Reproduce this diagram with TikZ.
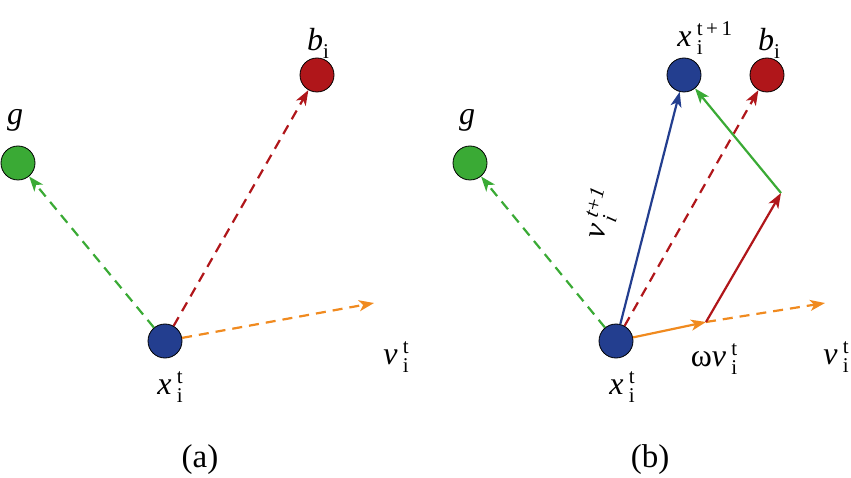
\documentclass[tikz,border=0pt]{standalone}
\usepackage{fontspec}
\setmainfont{Liberation Serif}
\usetikzlibrary{arrows.meta}
\definecolor{cb}{HTML}{233E8F}
\definecolor{cr}{HTML}{B0161A}
\definecolor{cg}{HTML}{3AAA35}
\definecolor{co}{HTML}{F08A1F}
\newcommand{\ssz}{\fontsize{21}{22}\selectfont}
\newcommand{\vx}[2]{\textit{#1}\,\raisebox{11pt}{\makebox[0pt][l]{\ssz #2}}\raisebox{-8pt}{\ssz i}}
\begin{document}
\begin{tikzpicture}[x=1pt,y=-1pt,font=\fontsize{32}{34}\selectfont,
  dot/.style={circle,draw=black,line width=0.8pt,minimum size=34pt,inner sep=0pt},
  arr/.style={line width=2.2pt,-{Stealth[length=15pt,width=11pt,inset=4pt]}},
  dsh/.style={arr,dash pattern=on 10pt off 7pt},
  lbl/.style={inner sep=0pt}]
\useasboundingbox (0,0) rectangle (851,478);
% panel a
\node[dot,fill=cg] (ga) at (18,163) {};
\node[dot,fill=cr] (ba) at (317,75) {};
\node[dot,fill=cb] (xa) at (165,341) {};
\coordinate (va) at (374,303);
\draw[dsh,cg] (xa) -- (ga);
\draw[dsh,cr] (xa) -- (ba);
\draw[dsh,co] (xa) -- (va);
\node[lbl] at (15,120) {\textit{g}};
\node[lbl] at (318,43) {\textit{b}\raisebox{-8pt}{\ssz i}};
\node[lbl] at (170,387) {\vx{x}{t}};
\node[lbl] at (396,357) {\vx{v}{t}};
\node[lbl,font=\fontsize{33}{36}\selectfont] at (200,460) {(a)};
% panel b
\node[dot,fill=cg] (gb) at (470,163) {};
\node[dot,fill=cr] (bb) at (767,75) {};
\node[dot,fill=cb] (xn) at (684,75) {};
\node[dot,fill=cb] (xb) at (616,341) {};
\coordinate (w) at (706,322);
\coordinate (p) at (781,193);
\coordinate (vb) at (825,303);
\draw[dsh,cg] (xb) -- (gb);
\draw[dsh,cr] (xb) -- (bb);
\draw[dsh,co] (w) -- (vb);
\draw[arr,co] (xb) -- (w);
\draw[arr,cr] (w) -- (p);
\draw[arr,cg] (p) -- (xn);
\draw[arr,cb] (xb) -- (xn);
\node[lbl] at (467,120) {\textit{g}};
\node[lbl] at (690,38) {\vx{x}{t\,+\,1}};
\node[lbl] at (769,43) {\textit{b}\raisebox{-8pt}{\ssz i}};
\node[lbl,rotate=76] at (598,226) {\textit{v}\,\raisebox{11pt}{\makebox[0pt][l]{\ssz\itshape t+1}}\raisebox{-8pt}{\ssz\itshape i}};
\node[lbl] at (714,359) {ω\vx{v}{t}};
\node[lbl] at (836,357) {\vx{v}{t}};
\node[lbl] at (622,387) {\vx{x}{t}};
\node[lbl,font=\fontsize{33}{36}\selectfont] at (650,460) {(b)};
\end{tikzpicture}
\end{document}
